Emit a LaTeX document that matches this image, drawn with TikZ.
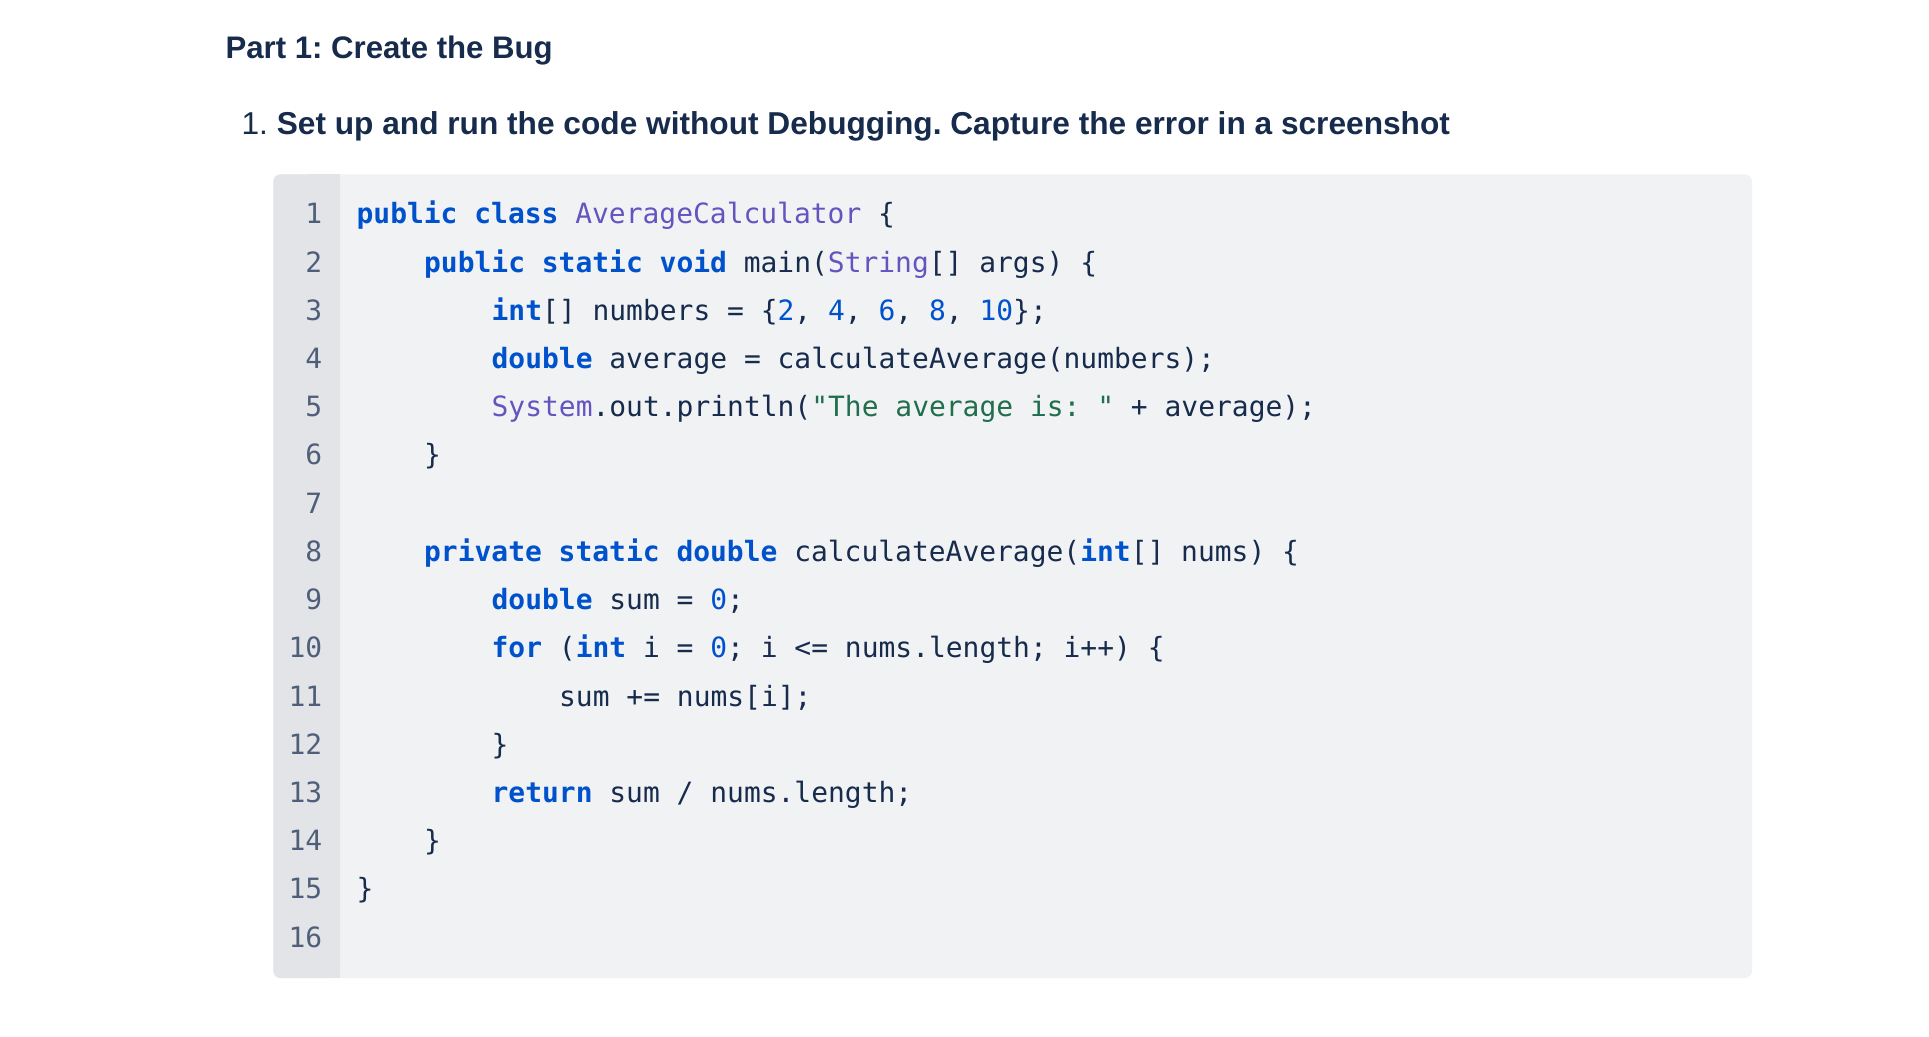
\documentclass[tikz,border=0pt]{standalone}
\usepackage{fontspec}
\setmainfont{Liberation Sans}
\setmonofont{DejaVu Sans Mono}
\frenchspacing
\definecolor{txt}{HTML}{172B4D}
\definecolor{kwc}{HTML}{0052CC}
\definecolor{clc}{HTML}{6554C0}
\definecolor{stc}{HTML}{216E4E}
\definecolor{lnc}{HTML}{505F79}
\definecolor{boxc}{HTML}{F1F2F4}
\definecolor{gutc}{HTML}{E2E4E8}
\newcommand{\jkw}[1]{\textcolor{kwc}{\bfseries #1}}
\newcommand{\jcl}[1]{\textcolor{clc}{#1}}
\newcommand{\jnm}[1]{\textcolor{kwc}{#1}}
\newcommand{\jst}[1]{\textcolor{stc}{#1}}
\begin{document}
\begin{tikzpicture}[x=0.5pt,y=-0.5pt,
  code/.style={anchor=base west,inner sep=0,text=txt,font=\ttfamily\fontsize{11.3pt}{13pt}\selectfont},
  lnum/.style={anchor=base east,inner sep=0,text=lnc,font=\ttfamily\fontsize{11.3pt}{13pt}\selectfont}]
\useasboundingbox (0,0) rectangle (1560,838);
\node[anchor=base west,inner sep=0,text=txt,font=\bfseries\fontsize{12.6pt}{15pt}\selectfont] (title) at (182,47) {Part 1: Create the Bug};
\node[anchor=base west,inner sep=0,text=txt,font=\fontsize{12.8pt}{15pt}\selectfont] (item) at (195,109) {1.~\textbf{Set up and run the code without Debugging. Capture the error in a screenshot}};
\fill[boxc,rounded corners=3pt] (221,141) rectangle (1417,791);
\fill[gutc,rounded corners=3pt] (221,141) rectangle (275,791);
\fill[gutc] (250,141) rectangle (275,791);
\foreach \n in {1,...,16}{\node[lnum] (l\n) at (261,{181+39*(\n-1)}) {\n};}
\def\ind{54.6}
\node[code] (c1) at (288,181) {\jkw{public} \jkw{class} \jcl{AverageCalculator} \{};
\node[code] (c2) at (288+\ind,220) {\jkw{public} \jkw{static} \jkw{void} main(\jcl{String}[] args) \{};
\node[code] (c3) at (288+2*\ind,259) {\jkw{int}[] numbers = \{\jnm{2}, \jnm{4}, \jnm{6}, \jnm{8}, \jnm{10}\};};
\node[code] (c4) at (288+2*\ind,298) {\jkw{double} average = calculateAverage(numbers);};
\node[code] (c5) at (288+2*\ind,337) {\jcl{System}.out.println(\jst{"The average is: "} + average);};
\node[code] (c6) at (288+\ind,376) {\}};
\node[code] (c8) at (288+\ind,454) {\jkw{private} \jkw{static} \jkw{double} calculateAverage(\jkw{int}[] nums) \{};
\node[code] (c9) at (288+2*\ind,493) {\jkw{double} sum = \jnm{0};};
\node[code] (c10) at (288+2*\ind,532) {\jkw{for} (\jkw{int} i = \jnm{0}; i <= nums.length; i++) \{};
\node[code] (c11) at (288+3*\ind,571) {sum += nums[i];};
\node[code] (c12) at (288+2*\ind,610) {\}};
\node[code] (c13) at (288+2*\ind,649) {\jkw{return} sum / nums.length;};
\node[code] (c14) at (288+\ind,688) {\}};
\node[code] (c15) at (288,727) {\}};
\end{tikzpicture}
\end{document}
